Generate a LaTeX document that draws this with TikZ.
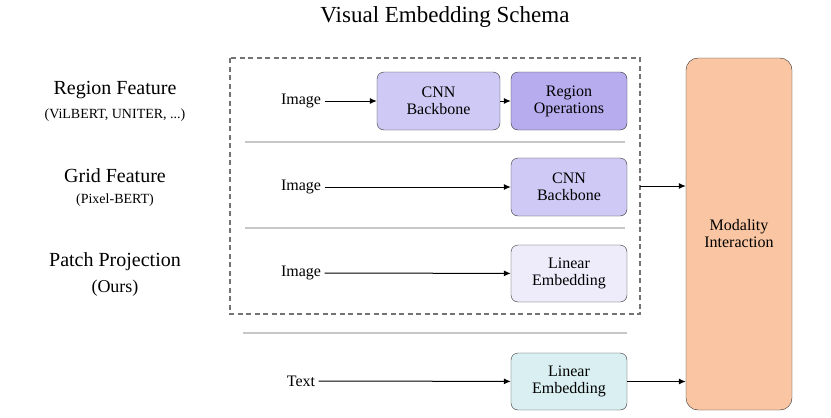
\documentclass[tikz,border=0pt]{standalone}
\usepackage{fontspec}
\setmainfont{Liberation Serif}
\usetikzlibrary{arrows.meta}
\definecolor{pA}{HTML}{CFC9F5}
\definecolor{pB}{HTML}{B7ACEE}
\definecolor{pC}{HTML}{EEEBFB}
\definecolor{tC}{HTML}{D9EFF1}
\definecolor{mC}{HTML}{F9C5A2}
\begin{document}
\begin{tikzpicture}[x=1pt,y=-1pt,
  box/.style={draw=black!80,rounded corners=7pt,align=center,font=\fontsize{16}{17}\selectfont,inner sep=0pt},
  lab/.style={font=\fontsize{16}{18}\selectfont},
  big/.style={font=\fontsize{20}{22}\selectfont},
  small/.style={font=\fontsize{14}{16}\selectfont},
  arr/.style={-{Latex[length=7pt,width=6pt]},line width=1pt},
  sep/.style={draw=black!22,line width=1.5pt}]
\useasboundingbox (0,0) rectangle (831,418);
\node[font=\fontsize{23}{25}\selectfont] (title) at (445,17) {Visual Embedding Schema};
\node[big] (rf) at (115,90) {Region Feature};
\node[small] (rfs) at (115,115) {(ViLBERT, UNITER, ...)};
\node[big] (gf) at (115,176) {Grid Feature};
\node[small] (gfs) at (115,200) {(Pixel-BERT)};
\node[big] (pp) at (115,262) {Patch Projection};
\node[big,font=\fontsize{18}{20}\selectfont] (pps) at (115,288) {(Ours)};
\draw[black!55,line width=2pt,dash pattern=on 5pt off 3.5pt] (230,58) rectangle (640,314);
\coordinate (dr) at (640,186);
\draw[sep] (245,142) -- (625,142);
\draw[sep] (245,228) -- (625,228);
\draw[sep] (243,333) -- (627,333);
\node[box,fill=pA,minimum width=123pt,minimum height=58pt] (c1) at (438.5,101) {CNN\\Backbone};
\node[box,fill=pB,minimum width=116pt,minimum height=58pt] (ro) at (569,101) {Region\\Operations};
\node[box,fill=pA,minimum width=116pt,minimum height=58pt] (c2) at (569,187) {CNN\\Backbone};
\node[box,fill=pC,minimum width=116pt,minimum height=57pt] (le) at (569,273.5) {Linear\\Embedding};
\node[box,fill=tC,minimum width=116pt,minimum height=57pt] (te) at (569,381.5) {Linear\\Embedding};
\node[box,fill=mC,rounded corners=12pt,minimum width=106pt,minimum height=352pt] (mi) at (739,234) {Modality\\Interaction};
\node[lab] (i1) at (301,101) {Image};
\node[lab] (i2) at (301,187) {Image};
\node[lab] (i3) at (301,273) {Image};
\node[lab] (tx) at (301,381) {Text};
\draw[arr] (i1) -- (c1);
\draw[arr] (c1) -- (ro);
\draw[arr] (i2) -- (c2);
\draw[arr] (i3) -- (le);
\draw[arr] (tx) -- (te);
\draw[arr] (dr) -- (dr -| mi.west);
\draw[arr] (te) -- (te -| mi.west);
\end{tikzpicture}
\end{document}
